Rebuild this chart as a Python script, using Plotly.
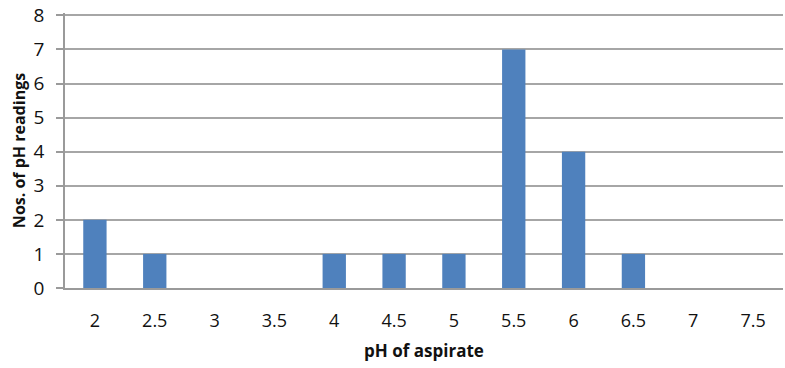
import plotly.graph_objects as go

categories = ["2", "2.5", "3", "3.5", "4", "4.5", "5", "5.5", "6", "6.5", "7", "7.5"]
counts = [2, 1, 0, 0, 1, 1, 1, 7, 4, 1, 0, 0]
y_ticks = [0, 1, 2, 3, 4, 5, 6, 7, 8]

fig = go.Figure()
fig.add_trace(go.Bar(x=categories, y=counts, marker=dict(color="#4F81BD", line=dict(width=0)),
                     width=0.39))

font = "Open Sans, Liberation Sans, Arial, sans-serif"
fig.update_layout(
    width=785, height=368,
    margin=dict(l=65, r=2, t=10, b=80),
    paper_bgcolor="white", plot_bgcolor="white",
    showlegend=False,
    font=dict(family=font, size=18, color="#111111"),
    xaxis=dict(
        type="category",
        showgrid=False,
        showline=True, linecolor="#9a9a9a", linewidth=1.5,
        ticks="", ticklabelstandoff=16,
        tickfont=dict(size=18),
        title=dict(text="<b>pH of aspirate</b>", font=dict(size=17), standoff=14),
    ),
    yaxis=dict(
        range=[0, 8.07],
        tickvals=y_ticks,
        showgrid=True, gridcolor="#a6a6a6", gridwidth=1.5,
        zeroline=False,
        showline=True, linecolor="#9a9a9a", linewidth=1.5,
        ticks="outside", ticklen=7, tickcolor="#9a9a9a", tickwidth=1.5,
        ticklabelstandoff=8, ticklabeloverflow="allow",
        tickfont=dict(size=19),
        title=dict(text="<b>Nos. of pH readings</b>", font=dict(size=16), standoff=4),
    ),
)

fig.write_html("out.html")
